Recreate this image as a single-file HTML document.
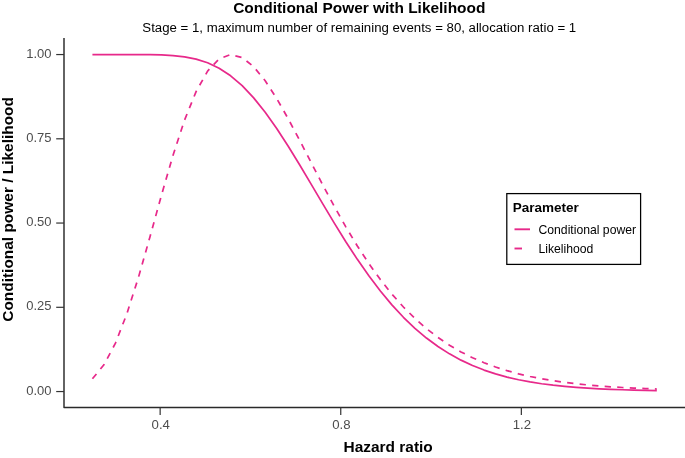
<!DOCTYPE html>
<html><head><meta charset="utf-8"><title>Conditional Power with Likelihood</title>
<style>
html,body{margin:0;padding:0;background:#fff;}
svg{display:block;font-family:"Liberation Sans",Arial,Helvetica,sans-serif;}
</style></head><body>
<svg width="685" height="458" viewBox="0 0 685 458">
<rect width="685" height="458" fill="#fff"/>
<text x="359.3" y="13.2" text-anchor="middle" font-size="15.45" font-weight="bold" fill="#000">Conditional Power with Likelihood</text>
<text x="359.3" y="31.6" text-anchor="middle" font-size="13.23" fill="#000">Stage = 1, maximum number of remaining events = 80, allocation ratio = 1</text>
<g stroke="#2a2a2a" stroke-width="1.45" fill="none" stroke-linejoin="round">
<path d="M64,38 V407.4 H686"/>
</g>
<g stroke="#333" stroke-width="1.2" fill="none">
<path d="M56.2,391.55 H64"/>
<path d="M56.2,307.30 H64"/>
<path d="M56.2,223.05 H64"/>
<path d="M56.2,138.80 H64"/>
<path d="M56.2,54.55 H64"/>
<path d="M160.15,407.2 V415"/>
<path d="M340.75,407.2 V415"/>
<path d="M521.35,407.2 V415"/>
</g>
<g font-size="13.0" fill="#4d4d4d" text-anchor="end">
<text x="51.6" y="394.60">0.00</text>
<text x="51.6" y="310.41">0.25</text>
<text x="51.6" y="226.23">0.50</text>
<text x="51.6" y="142.04">0.75</text>
<text x="51.6" y="57.85">1.00</text>
</g>
<g font-size="13.2" fill="#4d4d4d" text-anchor="middle">
<text x="160.75" y="429.2">0.4</text>
<text x="341.35" y="429.2">0.8</text>
<text x="521.95" y="429.2">1.2</text>
</g>
<text x="388.2" y="451.5" text-anchor="middle" font-size="15.45" font-weight="bold" fill="#000">Hazard ratio</text>
<text transform="translate(13.1,209.4) rotate(-90)" text-anchor="middle" font-size="15.45" font-weight="bold" fill="#000">Conditional power / Likelihood</text>
<path d="M92.42,54.55 L103.94,54.55 L115.46,54.55 L126.98,54.56 L138.50,54.58 L150.01,54.67 L161.53,54.93 L173.05,55.55 L184.57,56.81 L196.09,59.08 L207.60,62.76 L219.12,68.24 L230.64,75.83 L242.16,85.71 L253.68,97.89 L265.19,112.24 L276.71,128.47 L288.23,146.22 L299.75,165.02 L311.26,184.41 L322.78,203.93 L334.30,223.15 L345.82,241.73 L357.34,259.36 L368.85,275.85 L380.37,291.03 L391.89,304.85 L403.41,317.27 L414.93,328.31 L426.44,338.04 L437.96,346.52 L449.48,353.86 L461.00,360.15 L472.51,365.52 L484.03,370.06 L495.55,373.88 L507.07,377.07 L518.59,379.73 L530.10,381.92 L541.62,383.73 L553.14,385.21 L564.66,386.41 L576.18,387.39 L587.69,388.19 L599.21,388.83 L610.73,389.34 L622.25,389.75 L633.76,390.08 L645.28,390.34 L656.80,390.55" fill="none" stroke="#E7298A" stroke-width="1.72" stroke-linejoin="round"/>
<path d="M92.42,378.77 L103.94,364.81 L115.46,343.11 L126.98,313.51 L138.50,277.23 L150.01,236.69 L161.53,194.96 L173.05,155.16 L184.57,120.04 L196.09,91.62 L207.60,71.08 L219.12,58.82 L230.64,54.57 L242.16,57.55 L253.68,66.69 L265.19,80.76 L276.71,98.51 L288.23,118.77 L299.75,140.49 L311.26,162.78 L322.78,184.95 L334.30,206.45 L345.82,226.87 L357.34,245.96 L368.85,263.56 L380.37,279.60 L391.89,294.06 L403.41,306.99 L414.93,318.47 L426.44,328.59 L437.96,337.45 L449.48,345.19 L461.00,351.90 L472.51,357.71 L484.03,362.71 L495.55,367.01 L507.07,370.69 L518.59,373.83 L530.10,376.52 L541.62,378.80 L553.14,380.74 L564.66,382.38 L576.18,383.78 L587.69,384.95 L599.21,385.95 L610.73,386.79 L622.25,387.50 L633.76,388.10 L645.28,388.61 L656.80,389.03" fill="none" stroke="#E7298A" stroke-width="1.72" stroke-dasharray="6.285,6.285" stroke-linejoin="round"/>
<rect x="506.8" y="193.6" width="133.8" height="70.8" fill="#fff" stroke="#000" stroke-width="1.25"/>
<text x="512.7" y="211.7" font-size="13.5" font-weight="bold" fill="#000">Parameter</text>
<path d="M514.5,229.3 H530" stroke="#E7298A" stroke-width="1.9" fill="none"/>
<path d="M514.5,248.5 H522" stroke="#E7298A" stroke-width="1.9" fill="none"/>
<text x="538.5" y="234" font-size="12.2" fill="#000">Conditional power</text>
<text x="538.5" y="253" font-size="12.2" fill="#000">Likelihood</text>
</svg>
</body></html>
